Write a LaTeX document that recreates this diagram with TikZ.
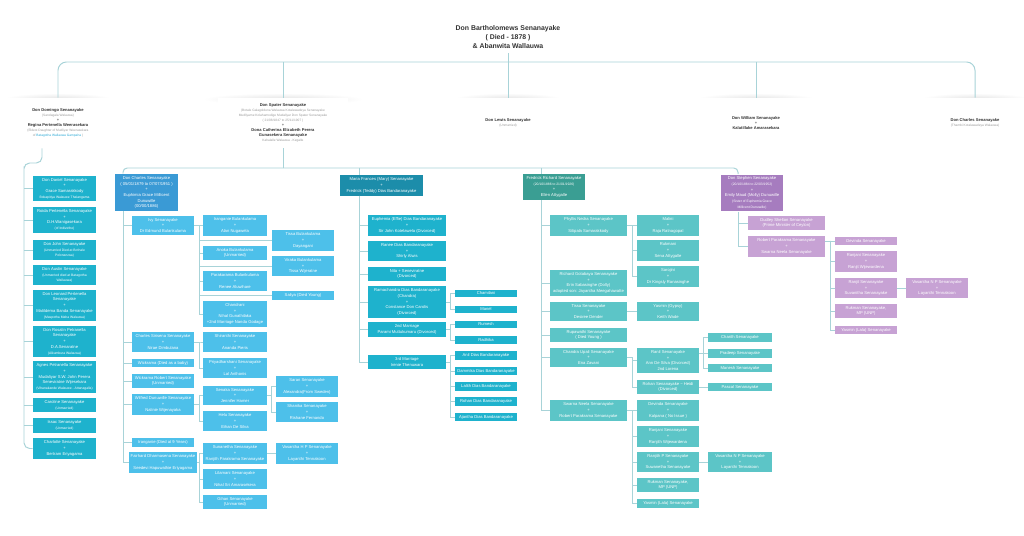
\documentclass[tikz,border=0pt]{standalone}
\usepackage{fontspec}
\setmainfont{Liberation Sans}
\usepackage{xcolor}
\definecolor{linkteal}{HTML}{A8D3D8}
\definecolor{namegray}{HTML}{333333}
\definecolor{subgray}{HTML}{9A9A9A}
\definecolor{placeblue}{HTML}{29A9D6}
\definecolor{cyanbox}{HTML}{1EB2CD}
\definecolor{bluehead}{HTML}{3A9AD5}
\definecolor{skybox}{HTML}{4DC0EA}
\definecolor{tealhead}{HTML}{1C8DAA}
\definecolor{greenhead}{HTML}{3A9E93}
\definecolor{aquabox}{HTML}{5CC5C7}
\definecolor{purplehead}{HTML}{A67CBF}
\definecolor{lilacbox}{HTML}{C7A2D4}
\newcommand{\boxfont}{\fontsize{2.95}{4.05}\selectfont}
\newcommand{\subfont}{\fontsize{2.4}{4.05}\selectfont}
\newcommand{\cardfont}{\fontsize{2.9}{3.6}\selectfont}
\newcommand{\subcard}{\fontsize{2.3}{3.6}\selectfont\color{subgray}}
\newcommand{\rootfont}{\fontsize{4.9}{6.4}\selectfont\bfseries}

\begin{document}
\begin{tikzpicture}[
  x=0.025cm, y=-0.025cm,
  link/.style={draw=linkteal, line width=0.7pt},
  person/.style={rectangle, fill=#1, text=white, align=center, font=\boxfont, inner xsep=1.2pt, inner ysep=1.7pt},
  wide/.style={minimum width=#1*0.7113pt},
  card/.style={rectangle, fill=white, align=center, font=\cardfont, text=namegray, minimum width=130*0.7113pt, minimum height=50*0.7113pt},
  haze/.style={inner color=black!11, outer color=white}
]
  \fill[white] (0,0) rectangle (1024,536);
  \useasboundingbox (0,0) rectangle (1024,536);

  % trunk and branch positions
  \coordinate (rt) at (508,62);
  \coordinate (hub) at (283,168);
  \coordinate (j1) at (42,163);
  \coordinate (k1) at (24,172);
  \coordinate (t2) at (123,0);
  \coordinate (t3) at (359,0);
  \coordinate (t4) at (541,0);
  \coordinate (t5) at (738,0);
  \coordinate (b1) at (199,0);
  \coordinate (b2) at (271,0);
  \coordinate (b3) at (450,0);
  \coordinate (b4) at (632,0);
  \coordinate (b5) at (703,0);
  \coordinate (b6) at (830,0);

  % first generation
  \node[font=\rootfont, text=namegray, align=center] (root) at (508,37) {Don Bartholomews Senanayake\\( Died - 1878 )\\\& Abanwita Wallauwa};

  % soft shadows above the cards
  \shade[haze] (58,99) ellipse (55 and 6);
  \shade[haze] (283,99) ellipse (80 and 6);
  \shade[haze] (508,99) ellipse (55 and 6);
  \shade[haze] (756,99) ellipse (60 and 6);
  \shade[haze] (975,99) ellipse (55 and 6);

  % second generation
  \node[card] (dom) at (58,123) {\textbf{Don Domingo Senanayake}\\{\subcard (Sandagala Walauwa)}\\+\\\textbf{Regina Pertenella Weerasekara}\\{\subcard (Eldest Daughter of Mudliyar Weerasekara}\\{\subcard of \textcolor{placeblue}{Batagotha Wallauwa Gampaha} )}};
  \node[card] (spa) at (283,123) {\textbf{Don Spater Senanayake}\\{\subcard (Botale Galagoldena Walauwa Kotalawadeya Senanayake}\\{\subcard Mudliyarne Kolahamodige Mudaliyar Don Spater Senanayake}\\{\subcard ( 21/08/1847 to 25/11/1907 )}\\+\\\textbf{Dona Catherina Elizabeth Perera}\\\textbf{Gunasekera Senanayake}\\{\subcard Kahalalle Walauwa - Kegalle}};
  \node[card] (lew) at (508,123) {\textbf{Don Lewis Senanayake}\\{\subcard (Unmarried)}};
  \node[card] (wil) at (756,123) {\textbf{Don William Senanayake}\\+\\\textbf{Kalatillake Amarasekara}};
  \node[card] (dch) at (975,123) {\textbf{Don Charles Senanayake}\\{\subcard (Thambi Kotalawadeya Walauwa)}};

  \draw[link] (root.south) -- (rt);
  \draw[link, rounded corners=6] (dom.north) |- (rt) -| (dch.north);
  \draw[link] (spa.north |- rt) -- (spa.north);
  \draw[link] (lew.north |- rt) -- (lew.north);
  \draw[link] (wil.north |- rt) -- (wil.north);

  % Don Domingo's children
  \node[person=cyanbox, wide=63] (dan) at (64.5,188.5) {Don Daniel Senanayake\\+\\Grace Samarakkody\\{\subfont Bokapitiya Walauwe Thalangama}};
  \node[person=cyanbox, wide=63] (roi) at (64.5,220) {Roida Pertenella Senanayake\\+\\D.H.Wanigasekara\\{\subfont (of Indivethe)}};
  \node[person=cyanbox, wide=63] (joh) at (64.5,250) {Don John Senanayake\\{\subfont (Unmarried Died at Bothale}\\{\subfont Polonaruwa)}};
  \node[person=cyanbox, wide=63] (aus) at (64.5,275) {Don Austin Senanayake\\{\subfont (Unmarried died at Batagotha}\\{\subfont Wallauwa)}};
  \node[person=cyanbox, wide=63] (leo) at (64.5,305.5) {Don Leonard Pertenella\\Senanayake\\+\\Matildema Banda Senanayake\\{\subfont (Maspotha Maha Walauwa)}};
  \node[person=cyanbox, wide=63] (ros) at (64.5,341.5) {Don Rosalin Petranella\\Senanayake\\+\\D.A.Senaratne\\{\subfont (Alkumbura Walauwa)}};
  \node[person=cyanbox, wide=63] (agn) at (64.5,377) {Agnes Petranella Senanayake\\+\\Mudaliyar S.W. John Perera\\Seneviratne Wijesekara\\{\subfont (Vihanakande Walauwe - Attanagalla)}};
  \node[person=cyanbox, wide=63] (car) at (64.5,405) {Caroline Senanayake\\{\subfont (Unmarried)}};
  \node[person=cyanbox, wide=63] (iss) at (64.5,425.5) {Issac Senanayake\\{\subfont (Unmarried)}};
  \node[person=cyanbox, wide=63] (chl) at (64.5,448.5) {Charlotte Senanayake\\+\\Bertram Eriyagama};

  \draw[link, rounded corners=4] (j1 |- dom.south) -- (j1) -| (k1) |- (chl.west);
  \draw[link] (k1 |- dan.west) -- (dan.west);
  \draw[link] (k1 |- roi.west) -- (roi.west);
  \draw[link] (k1 |- joh.west) -- (joh.west);
  \draw[link] (k1 |- aus.west) -- (aus.west);
  \draw[link] (k1 |- leo.west) -- (leo.west);
  \draw[link] (k1 |- ros.west) -- (ros.west);
  \draw[link] (k1 |- agn.west) -- (agn.west);
  \draw[link] (k1 |- car.west) -- (car.west);
  \draw[link] (k1 |- iss.west) -- (iss.west);

  % Don Spater's children
  \node[person=bluehead, wide=63] (chs) at (146.5,192.5) {Don Charles Senanayake\\( 05/01/1879 to 07/07/1951 )\\+\\Euphimia Grace Millicent\\Dunuwille\\(00/00/1886)};
  \node[person=tealhead, wide=83] (mar) at (381.5,185.5) {Maria Frances (Mary) Senanayake\\+\\Fredrick (Teddy) Dias Bandaranayake};
  \node[person=greenhead, wide=62] (fre) at (554,187) {Fredrick Richard Senanayake\\{\subfont (20/10/1886 to 21/01/1926)}\\+\\Ellen Attygalle};
  \node[person=purplehead, wide=62] (ste) at (752,193) {Don Stephen Senanayake\\{\subfont (20/10/1884 to 22/03/1952)}\\+\\Emily Maud (Molly) Dunuwille\\{\subfont (Sister of Euphemia Grace}\\{\subfont Millicent Dunuwille)}};

  \draw[link] (spa.south) -- (hub);
  \draw[link, rounded corners=3] (hub) -| (t2 |- chs.north);
  \draw[link, rounded corners=3] (hub) -| (t5 |- ste.north);
  \draw[link] (t3 |- hub) -- (t3 |- mar.north);
  \draw[link] (t4 |- hub) -- (t4 |- fre.north);

  % Don Charles' family
  \node[person=skybox, wide=62] (ivy) at (163,225.5) {Ivy Senanayake\\+\\Dr Edmund Bulankulama};
  \node[person=skybox, wide=62] (csi) at (163,342) {Charles Sirisena Senanayake\\+\\Nirae Dimbulana};
  \node[person=skybox, wide=62] (wic) at (163,363) {Wickrama (Died as a baby)};
  \node[person=skybox, wide=62] (wrs) at (163,381) {Wickrama Robert Senanayake\\(Unmarried)};
  \node[person=skybox, wide=62] (wlf) at (163,404.5) {Wilfred Dunuwille Senanayake\\+\\Nalinie Wijenayaka};
  \node[person=skybox, wide=62] (irg) at (163,442.5) {Iranganie (Died at 9 Years)};
  \node[person=skybox, wide=62] (fdh) at (163,462.5) {Fairhard Dharmasena Senanayake\\+\\Seedevi Hapuwathie Eriyagama};

  \node[person=skybox, wide=64] (ira) at (235,225.5) {Iranganie Bulankulama\\+\\Alan Nugawela};
  \node[person=skybox, wide=64] (ano) at (235,253) {Anoka Bulankulama\\(Unmarried)};
  \node[person=skybox, wide=64] (par) at (235,281) {Parakarama Bulankulama\\+\\Renee Aluwihare};
  \node[person=skybox, wide=64] (cha) at (235,314) {Chandrani\\+\\Nihal Gunathilaka\\+2nd Marriage Nanda Godage};
  \node[person=skybox, wide=62] (tis) at (303,240.5) {Tissa Bulankulama\\+\\Dayangani};
  \node[person=skybox, wide=62] (vir) at (303,266) {Viraka Bulankulama\\+\\Tissa Wijeratne};
  \node[person=skybox, wide=62] (sal) at (303,295.5) {Saliya (Died Young)};
  \node[person=skybox, wide=64] (shi) at (235,342) {Shiranthi Senanayake\\+\\Ananda Pieris};
  \node[person=skybox, wide=64] (pri) at (235,368) {Priyadharshani Senanayake\\+\\Lal Anthonis};
  \node[person=skybox, wide=64] (sen) at (235,395.5) {Senaka Senanayake\\+\\Jennifer Hamer};
  \node[person=skybox, wide=64] (hel) at (235,421) {Helu Senanayake\\+\\Eihan De Silva};
  \node[person=skybox, wide=62] (sar) at (307,386.5) {Saran Senanayake\\+\\Alexandra(From Sweden)};
  \node[person=skybox, wide=62] (sha) at (307,412) {Shanika Senanayake\\+\\Rishane Fernando};
  \node[person=skybox, wide=64] (sun) at (235,453.5) {Sunanetha Senanayake\\+\\Ranjith Parakrama Senanayake};
  \node[person=skybox, wide=64] (lil) at (235,479) {Lilamani Senanayake\\+\\Nihal Sri Amarasekera};
  \node[person=skybox, wide=64] (gih) at (235,502) {Gihan Senanayake\\(Unmarried)};
  \node[person=skybox, wide=62] (vsa) at (307,453.5) {Vasantha H P Senanayake\\+\\Layanthi Tennakoon};

  \draw[link] (chs.south -| t2) |- (ivy.west);
  \draw[link] (chs.south -| t2) |- (csi.west);
  \draw[link] (chs.south -| t2) |- (wic.west);
  \draw[link] (chs.south -| t2) |- (wrs.west);
  \draw[link] (chs.south -| t2) |- (wlf.west);
  \draw[link] (chs.south -| t2) |- (irg.west);
  \draw[link] (chs.south -| t2) |- (fdh.west);
  \draw[link] (ivy.east) -| (b1 |- ira.west) -- (ira.west);
  \draw[link] (ivy.east) -| (b1 |- ano.west) -- (ano.west);
  \draw[link] (ivy.east) -| (b1 |- par.west) -- (par.west);
  \draw[link] (ivy.east) -| (b1 |- cha.west) -- (cha.west);
  \draw[link] (ivy.east) -| (b1 |- tis.west) -- (tis.west);
  \draw[link] (ivy.east) -| (b1 |- vir.west) -- (vir.west);
  \draw[link] (ivy.east) -| (b1 |- sal.west) -- (sal.west);
  \draw[link] (csi.east) -| (b1 |- shi.west) -- (shi.west);
  \draw[link] (csi.east) -| (b1 |- pri.west) -- (pri.west);
  \draw[link] (wlf.east) -| (b1 |- sen.west) -- (sen.west);
  \draw[link] (wlf.east) -| (b1 |- hel.west) -- (hel.west);
  \draw[link] (sen.east) -| (b2 |- sar.west) -- (sar.west);
  \draw[link] (sen.east) -| (b2 |- sha.west) -- (sha.west);
  \draw[link] (fdh.east) -| (b1 |- sun.west) -- (sun.west);
  \draw[link] (fdh.east) -| (b1 |- lil.west) -- (lil.west);
  \draw[link] (fdh.east) -| (b1 |- gih.west) -- (gih.west);
  \draw[link] (sun.east) -- (vsa.west);

  % Maria Frances' family
  \node[person=cyanbox, wide=78] (eup) at (407,225.5) {Euphemia (Effie) Dias Bandaranayake\\+\\Sir John Kotelawela (Divorced)};
  \node[person=cyanbox, wide=78] (ran) at (407,251) {Ranee Dias Bandaranayake\\+\\Shirly Alwis};
  \node[person=cyanbox, wide=78] (nit) at (407,274) {Nita + Seneviratne\\(Divorced)};
  \node[person=cyanbox, wide=78] (ram) at (407,302) {Ramachandra Dias Bandaranayake\\(Chandra)\\+\\Constance Don Carolis\\(Divorced)};
  \node[person=cyanbox, wide=78] (mr2) at (407,329.5) {2nd Marriage\\Parami Muttukumaru (Divorced)};
  \node[person=cyanbox, wide=78] (mr3) at (407,362) {3rd Marriage\\Irenie Thenuwara};
  \node[person=cyanbox, wide=62] (chm) at (486,293.5) {Chamilani};
  \node[person=cyanbox, wide=62] (man) at (486,309.5) {Manel};
  \node[person=cyanbox, wide=62] (rum) at (486,324.5) {Rumesh};
  \node[person=cyanbox, wide=62] (rad) at (486,340) {Radhika};
  \node[person=cyanbox, wide=62] (ani) at (486,355.5) {Anil Dias Bandaranayake};
  \node[person=cyanbox, wide=62] (dam) at (486,371) {Dammika Dias Bandaranayake};
  \node[person=cyanbox, wide=62] (lal) at (486,386.5) {Lalith Dias Bandaranayake};
  \node[person=cyanbox, wide=62] (rhd) at (486,401.5) {Rohan Dias Bandaranayake};
  \node[person=cyanbox, wide=62] (aja) at (486,417) {Ajantha Dias Bandaranayake};

  \draw[link] (mar.south -| t3) |- (eup.west);
  \draw[link] (mar.south -| t3) |- (ran.west);
  \draw[link] (mar.south -| t3) |- (nit.west);
  \draw[link] (mar.south -| t3) |- (ram.west);
  \draw[link] (mar.south -| t3) |- (mr2.west);
  \draw[link] (mar.south -| t3) |- (mr3.west);
  \draw[link] (ram.east) -| (b3 |- chm.west) -- (chm.west);
  \draw[link] (ram.east) -| (b3 |- man.west) -- (man.west);
  \draw[link] (mr2.east) -| (b3 |- rum.west) -- (rum.west);
  \draw[link] (mr2.east) -| (b3 |- rad.west) -- (rad.west);
  \draw[link] (mr3.east) -| (b3 |- ani.west) -- (ani.west);
  \draw[link] (mr3.east) -| (b3 |- dam.west) -- (dam.west);
  \draw[link] (mr3.east) -| (b3 |- lal.west) -- (lal.west);
  \draw[link] (mr3.east) -| (b3 |- rhd.west) -- (rhd.west);
  \draw[link] (mr3.east) -| (b3 |- aja.west) -- (aja.west);

  % Fredrick Richard's family
  \node[person=aquabox, wide=77] (phy) at (588.5,225.5) {Phyllis Nedra Senanayake\\+\\Sitipala Samarakkody};
  \node[person=aquabox, wide=77] (ric) at (588.5,283) {Richard Gotabaya Senanayake\\+\\Erin Sabasinghe (Dolly)\\adopted son: Jayantha Meegahawatte};
  \node[person=aquabox, wide=77] (tss) at (588.5,311.5) {Tissa Senanayake\\+\\Desiree Dender};
  \node[person=aquabox, wide=77] (rup) at (588.5,335) {Rupawathi Senanayake\\( Died Young )};
  \node[person=aquabox, wide=77] (chu) at (588.5,357.5) {Chandra Upali Senanayake\\+\\Ena Zavani};
  \node[person=aquabox, wide=77] (swa) at (588.5,410.5) {Swarna Neela Senanayake\\+\\Robert Parakrama Senanayake};
  \node[person=aquabox, wide=62] (mal) at (668,225.5) {Malini\\+\\Raja Ratnagopal};
  \node[person=aquabox, wide=62] (ruk) at (668,250.5) {Rukmani\\+\\Sena Attygalle};
  \node[person=aquabox, wide=62] (srg) at (668,276.5) {Sarojini\\+\\Dr Kingsly Ranasinghe};
  \node[person=aquabox, wide=62] (yas) at (668,311.5) {Yasmin (Gypsy)\\+\\Keith Wade};
  \node[person=aquabox, wide=62] (rnl) at (668,360.5) {Ranil Senanayake\\+\\Ann De Silva (Divorced)\\2nd Lorena};
  \node[person=aquabox, wide=62] (rhn) at (668,387) {Rohan Senanayake \textasciitilde{} Heidi\\(Divorced)};
  \node[person=aquabox, wide=62] (dvd) at (668,410.5) {Devinda Senanayake\\+\\Kalpana ( No Issue )};
  \node[person=aquabox, wide=62] (rjn) at (668,436.5) {Ranjani Senanayake\\+\\Ranjith Wijewardena};
  \node[person=aquabox, wide=62] (rjp) at (668,462) {Ranjith P Senanayake\\+\\Suwanetha Senanayake};
  \node[person=aquabox, wide=62] (rkm) at (668,485) {Rukman Senanayake,\\MP (UNP)};
  \node[person=aquabox, wide=62] (yll) at (668,503.5) {Yasmin (Lala) Senanayake};
  \node[person=aquabox, wide=64] (chr) at (740,337.5) {Charith Senanayake};
  \node[person=aquabox, wide=64] (prd) at (740,353.5) {Pradeep Senanayake};
  \node[person=aquabox, wide=64] (mns) at (740,368) {Manesh Senanayake};
  \node[person=aquabox, wide=64] (psc) at (740,387) {Pascal Senanayake};
  \node[person=aquabox, wide=64] (vsb) at (740,462) {Vasantha N P Senanayake\\+\\Layanthi Tennakoon};

  \draw[link] (fre.south -| t4) |- (phy.west);
  \draw[link] (fre.south -| t4) |- (ric.west);
  \draw[link] (fre.south -| t4) |- (tss.west);
  \draw[link] (fre.south -| t4) |- (rup.west);
  \draw[link] (fre.south -| t4) |- (chu.west);
  \draw[link] (fre.south -| t4) |- (swa.west);
  \draw[link] (phy.east) -| (b4 |- mal.west) -- (mal.west);
  \draw[link] (phy.east) -| (b4 |- ruk.west) -- (ruk.west);
  \draw[link] (phy.east) -| (b4 |- srg.west) -- (srg.west);
  \draw[link] (tss.east) -- (yas.west);
  \draw[link] (chu.east) -| (b4 |- rnl.west) -- (rnl.west);
  \draw[link] (chu.east) -| (b4 |- rhn.west) -- (rhn.west);
  \draw[link] (swa.east) -| (b4 |- dvd.west) -- (dvd.west);
  \draw[link] (swa.east) -| (b4 |- rjn.west) -- (rjn.west);
  \draw[link] (swa.east) -| (b4 |- rjp.west) -- (rjp.west);
  \draw[link] (swa.east) -| (b4 |- rkm.west) -- (rkm.west);
  \draw[link] (swa.east) -| (b4 |- yll.west) -- (yll.west);
  \draw[link] (rnl.east |- prd.west) -- (prd.west);
  \draw[link] (b5 |- prd.west) |- (chr.west);
  \draw[link] (b5 |- prd.west) |- (mns.west);
  \draw[link] (rhn.east) -- (psc.west);
  \draw[link] (rjp.east) -- (vsb.west);

  % Don Stephen's family
  \node[person=lilacbox, wide=77] (dud) at (786.5,223) {Dudley Shelton Senanayake\\(Prime Minister of Ceylon)};
  \node[person=lilacbox, wide=77] (rob) at (786.5,246.5) {Robert Parakrama Senanayake\\+\\Swarna Neela Senanayake};
  \node[person=lilacbox, wide=62] (dv5) at (866,241) {Devinda Senanayake};
  \node[person=lilacbox, wide=62] (rj5) at (866,261.5) {Ranjani Senanayake\\+\\Ranjit Wijewardena};
  \node[person=lilacbox, wide=62] (rs5) at (866,288) {Ranjit Senanayake\\+\\Suvanitha Senanayake};
  \node[person=lilacbox, wide=62] (rk5) at (866,311) {Rukman Senanayake,\\MP (UNP)};
  \node[person=lilacbox, wide=62] (yl5) at (866,330) {Yasmin (Lala) Senanayake};
  \node[person=lilacbox, wide=62] (vs5) at (937,288) {Vasantha N P Senanayake\\+\\Layanthi Tennakoon};

  \draw[link] (ste.south -| t5) |- (dud.west);
  \draw[link] (ste.south -| t5) |- (rob.west);
  \draw[link] (rob.east |- dv5.west) -- (dv5.west);
  \draw[link] (b6 |- dv5.west) |- (rj5.west);
  \draw[link] (b6 |- dv5.west) |- (rs5.west);
  \draw[link] (b6 |- dv5.west) |- (rk5.west);
  \draw[link] (b6 |- dv5.west) |- (yl5.west);
  \draw[link] (rs5.east) -- (vs5.west);
\end{tikzpicture}
\end{document}
